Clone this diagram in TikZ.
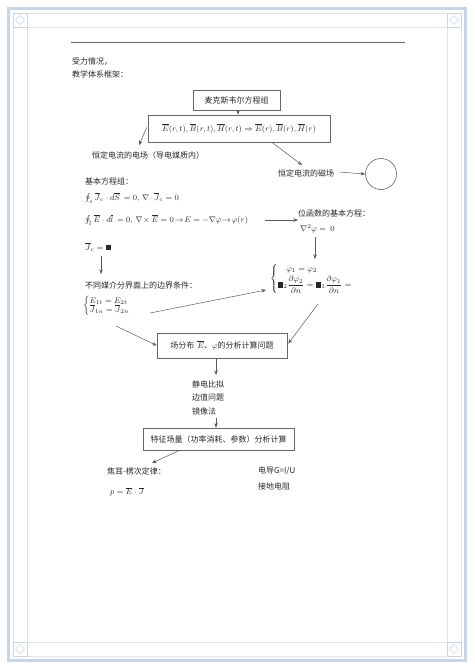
\documentclass[tikz,border=0pt]{standalone}
\usepackage{amsmath}
\usepackage{fontspec}
\setmainfont{Liberation Serif}
\newfontfamily\cjk{Noto Sans CJK SC}
\usetikzlibrary{arrows.meta,calc}
\definecolor{frame}{RGB}{200,213,228}
\definecolor{framelt}{RGB}{220,228,238}
\definecolor{ink}{RGB}{40,40,40}
\newcommand{\sq}{\rule{5.5pt}{5.5pt}}
\tikzset{
  boxnode/.style={draw=gray!80!black,line width=0.6pt,inner sep=0pt,align=center,font=\fontsize{8}{9}\selectfont,text=ink},
  txt/.style={anchor=west,inner sep=0pt,font=\fontsize{8}{10}\selectfont,text=ink},
  mtxt/.style={anchor=west,inner sep=0pt,font=\fontsize{8.5}{10}\selectfont,text=ink},
  arr/.style={-{Stealth[length=4.5pt,width=3.5pt]},draw=gray!70!black,line width=0.5pt},
  frameline/.style={draw=frame}
}
\begin{document}
\begin{tikzpicture}[x=1pt,y=-1pt]
\useasboundingbox (0,0) rectangle (474,669);
% page border
\draw[frameline,line width=3pt] (8.5,8.5) rectangle (465.5,660.5);
\draw[draw=framelt,line width=0.5pt] (13,13) rectangle (461,656);
\draw[draw=framelt,line width=0.4pt] (27,13) -- (27,656);
\draw[draw=framelt,line width=0.4pt] (447,13) -- (447,656);
\draw[draw=framelt,line width=0.4pt] (13,27) -- (461,27);
\draw[draw=framelt,line width=0.4pt] (13,642) -- (461,642);
\foreach \cx/\cy in {20/20,454/20,20/649,454/649}{
  \draw[frameline,line width=0.6pt,fill=white] (\cx-7,\cy-7) rectangle (\cx+7,\cy+7);
  \draw[frameline,line width=0.5pt] (\cx,\cy-4.5) -- (\cx+4.5,\cy) -- (\cx,\cy+4.5) -- (\cx-4.5,\cy) -- cycle;
}
% header rule
\coordinate (hl) at (71,42);
\coordinate (hr) at (405,42);
\draw[gray!80!black,line width=0.6pt] (hl) -- (hr);
\node[txt] (t1) at (72,62) {\cjk 受力情况，};
\node[txt] (t2) at (72,74) {\cjk 教学体系框架：};
% boxes
\node[boxnode,minimum width=87,minimum height=20] (b1) at (236.5,100) {\cjk 麦克斯韦尔方程组};
\node[boxnode,minimum width=182,minimum height=27,font=\fontsize{8.5}{10}\selectfont] (b2) at (239,128.5)
  {$\overline{E}(r,t),\overline{B}(r,t),\overline{H}(r,t)\Rightarrow\overline{E}(r),\overline{B}(r),\overline{H}(r)$};
\node[boxnode,minimum width=130,minimum height=25] (b3) at (222,345.5) {\cjk 场分布 \,$\overline{E}$、$\varphi$的分析计算问题};
\node[boxnode,minimum width=151,minimum height=22] (b4) at (218.5,439) {\cjk 特征场量（功率消耗、参数）分析计算};
\draw[arr] ($(b1.south)+(1.5,0)$) -- ($(b2.north)+(-1,0)$);
% electric field branch
\node[txt] (elec) at (92,155) {\cjk 恒定电流的电场（导电媒质内）};
\coordinate (ea) at (139,145);
\draw[arr] ($(b2.west)+(-1,-1)$) -- (ea);
% magnetic branch
\node[txt] (mag) at (278,173) {\cjk 恒定电流的磁场};
\node[draw=gray!80!black,line width=0.6pt,circle,minimum size=31,inner sep=0] (circ) at (381,174) {};
\draw[arr] ($(b2.south)+(33,0)$) -- (302,165);
\draw[arr] ($(mag.east)+(5,-1)$) -- (circ.west);
% basic equations
\node[txt] (basic) at (85,181) {\cjk 基本方程组：};
\node[mtxt] (eq1) at (85,198) {$\oint_{s}\overline{J}_c\cdot d\overline{S}\,=0,\,\nabla\!\cdot\overline{J}_c=0$};
\node[mtxt] (eq2) at (85,220) {$\oint_{l}\overline{E}\cdot d\overline{l}\,=0,\,\nabla\!\times\overline{E}=0\!\rightarrow\! E=-\nabla\varphi\!\rightarrow\!\varphi(r)$};
\node[mtxt] (jc) at (85,247) {$\overline{J}_c=\ $\sq};
% potential
\node[txt] (pot) at (298,213) {\cjk 位函数的基本方程：};
\node[mtxt] (lap) at (300,229) {$\nabla^2\varphi=\ 0$};
\coordinate (ea2) at (265,220);
\draw[arr] (ea2) -- (pot.south west |- ea2);
\draw[arr] (315,237) -- (315,259);
\node[mtxt] (bcp) at (270,279)
  {$\left\{\begin{array}{@{}l@{}}\quad\varphi_1=\varphi_2\\[2pt] \text{\sq}_{2}\dfrac{\partial\varphi_2}{\partial n}=\text{\sq}_{1}\dfrac{\partial\varphi_1}{\partial n}=\end{array}\right.$};
% boundary conditions
\draw[arr] (101,256) -- (101,274);
\node[txt] (bnd) at (85,285) {\cjk 不同媒介分界面上的边界条件：};
\node[mtxt] (bce) at (83,306)
  {$\left\{\begin{array}{@{}l@{}}E_{1t}=E_{2t}\\[-2pt] \overline{J}_{1n}=\overline{J}_{2n}\end{array}\right.$};
\draw[arr] (150,313) -- (266,290);
\draw[arr] (116,326) -- (b3.west);
\draw[arr] (318,304) -- ($(b3.east)+(1,-2)$);
% methods
\draw[arr] (b3.south) ++(-6,0) -- (216,375);
\node[txt] (m1) at (192,384) {\cjk 静电比拟};
\node[txt] (m2) at (192,397) {\cjk 边值问题};
\node[txt] (m3) at (192,411) {\cjk 镜像法};
\draw[arr] (216,418) -- ($(b4.north)+(-2.5,0)$);
% bottom
\draw[arr] ($(b4.south west)+(37,0)$) -- (152,463);
\node[txt] (joule) at (107,471) {\cjk 焦耳-楞次定律：};
\node[mtxt] (pe) at (110,492) {$p=\overline{E}\cdot\overline{J}$};
\node[txt] (g) at (258,471) {\cjk 电导G=I/U};
\node[txt] (rg) at (258,486) {\cjk 接地电阻};
\end{tikzpicture}
\end{document}
